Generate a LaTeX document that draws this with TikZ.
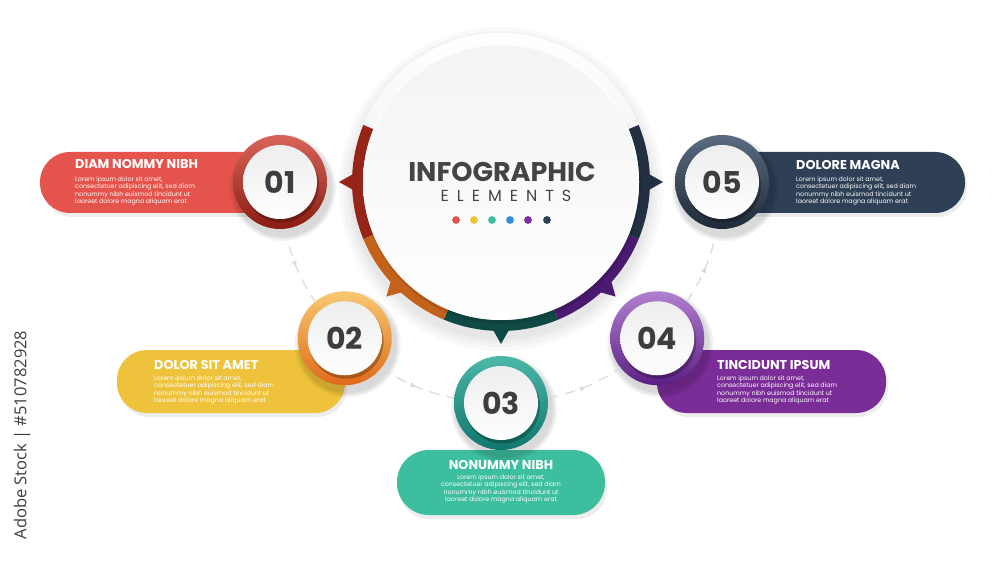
\documentclass[tikz,border=0pt]{standalone}
\usepackage{fontspec}
\setmainfont{Poppins}
\newfontfamily\elemfont[LetterSpace=50]{Poppins}
\newfontfamily\wmfont{Open Sans}
\usetikzlibrary{decorations.markings,arrows.meta}
\definecolor{pillred}{HTML}{E4544C}
\definecolor{pillyellow}{HTML}{EEC23A}
\definecolor{pillteal}{HTML}{3DBE9E}
\definecolor{pillpurple}{HTML}{7A2D96}
\definecolor{pillnavy}{HTML}{2F3F56}
\definecolor{ringAl}{HTML}{D8655A}\definecolor{ringAd}{HTML}{8A1C12}
\definecolor{ringBl}{HTML}{F7C971}\definecolor{ringBd}{HTML}{E06A1A}
\definecolor{ringCl}{HTML}{4CB8A8}\definecolor{ringCd}{HTML}{0F766B}
\definecolor{ringDl}{HTML}{B080D0}\definecolor{ringDd}{HTML}{5B1F85}
\definecolor{ringEl}{HTML}{5A6B80}\definecolor{ringEd}{HTML}{1E2A38}
\definecolor{segred}{HTML}{962418}
\definecolor{segorange}{HTML}{C4621C}
\definecolor{segteal}{HTML}{0F4A47}
\definecolor{segpurple}{HTML}{4A1B70}
\definecolor{segnavy}{HTML}{223042}
\definecolor{numgray}{HTML}{3D3D3D}
\definecolor{titlegray}{HTML}{444444}
\definecolor{arcgray}{HTML}{DCDCDC}
\definecolor{dotblue}{HTML}{2E8FD8}
\tikzset{
  pill/.style={rounded corners=30pt, inner sep=0pt, minimum height=61pt},
  pilltitle/.style={font=\bfseries\fontsize{12.8}{12.8}\selectfont, text=white, inner sep=0pt},
  pillbody/.style={font=\fontsize{6.3}{7.4}\selectfont, text=white, inner sep=0pt},
  numnode/.style={circle, minimum size=94pt, inner sep=0pt, font=\bfseries\fontsize{30}{30}\selectfont, text=numgray},
  arcline/.style={draw=arcgray, line width=1.3pt, dash pattern=on 10pt off 8pt,
    postaction={decorate}, decoration={markings, mark=at position 0.5 with {\arrow{Triangle[length=6pt,width=5pt]}}}}
}
\begin{document}
\begin{tikzpicture}[x=1pt,y=1pt]
\useasboundingbox (0,0) rectangle (1000,563);
\fill[white] (0,0) rectangle (1000,563);
\coordinate (C) at (501,381);
\foreach \a [count=\i] in {180,225,270,315,360} \coordinate (s\i) at ([shift={(\a:221)}]C);

% pill shadows
\foreach \xa/\ya/\xb/\yb in {40/350/281/411, 722/350/965/411, 117/150/345/213, 657/150/886/213, 397/48/605/113}
  \fill[black, opacity=0.07, rounded corners=30pt] (\xa+2,\ya-4) rectangle (\xb+2,\yb-3);

% pills
\node[pill, fill=pillred, minimum width=241pt] (p1) at (160.5,380.5) {};
\node[pill, fill=pillnavy, minimum width=243pt] (p5) at (843.5,380.5) {};
\node[pill, fill=pillyellow, minimum width=228pt, minimum height=63pt] (p2) at (231,181.5) {};
\node[pill, fill=pillpurple, minimum width=229pt, minimum height=63pt] (p4) at (771.5,181.5) {};
\node[pill, fill=pillteal, minimum width=208pt, minimum height=65pt, rounded corners=32pt] (p3) at (501,80.5) {};

% pill texts
\node[pilltitle, anchor=west] (t1) at (75,399) {DIAM NOMMY NIBH};
\node[pillbody, anchor=west, align=left] (b1) at (75,372) {Lorem ipsum dolor sit amet,\\consectetuer adipiscing elit, sed diam\\nonummy nibh euismod tincidunt ut\\laoreet dolore magna aliquam erat};
\node[pilltitle, anchor=west] (t5) at (796,398) {DOLORE MAGNA};
\node[pillbody, anchor=west, align=left] (b5) at (796,372) {Lorem ipsum dolor sit amet,\\consectetuer adipiscing elit, sed diam\\nonummy nibh euismod tincidunt ut\\laoreet dolore magna aliquam erat};
\node[pilltitle, anchor=west] (t2) at (154,198) {DOLOR SIT AMET};
\node[pillbody, anchor=west, align=left] (b2) at (154,173) {Lorem ipsum dolor sit amet,\\consectetuer adipiscing elit, sed diam\\nonummy nibh euismod tincidunt ut\\laoreet dolore magna aliquam erat};
\node[pilltitle, anchor=west] (t4) at (717,198) {TINCIDUNT IPSUM};
\node[pillbody, anchor=west, align=left] (b4) at (717,173) {Lorem ipsum dolor sit amet,\\consectetuer adipiscing elit, sed diam\\nonummy nibh euismod tincidunt ut\\laoreet dolore magna aliquam erat};
\node[pilltitle] (t3) at (501,98) {NONUMMY NIBH};
\node[pillbody, align=center] (b3) at (501,74) {Lorem ipsum dolor sit amet,\\consectetuer adipiscing elit, sed diam\\nonummy nibh euismod tincidunt ut\\laoreet dolore magna aliquam erat};

% central circle shadow
\foreach \r in {162,158,154,151}
  \fill[black, opacity=0.022] ([yshift=-7pt]C) circle (\r);
% central ring
\shade[top color=white, bottom color=gray!22] (C) circle (149);
\fill[segred]    (C) -- ++(157.5:149) arc (157.5:202.5:149) -- cycle;
\fill[segorange] (C) -- ++(202.5:149) arc (202.5:247.5:149) -- cycle;
\fill[segteal]   (C) -- ++(247.5:149) arc (247.5:292.5:149) -- cycle;
\fill[segpurple] (C) -- ++(292.5:149) arc (292.5:337.5:149) -- cycle;
\fill[segnavy]   (C) -- ++(-22.5:149) arc (-22.5:22.5:149) -- cycle;
\foreach \a/\c in {180/segred, 225/segorange, 270/segteal, 315/segpurple, 0/segnavy}
  \fill[\c] ([shift={(\a:162)}]C) -- ([shift={(\a+3.6:146)}]C) -- ([shift={(\a-3.6:146)}]C) -- cycle;
% face
\fill[black, opacity=0.10] ([shift={(1,-3)}]C) circle (139);
\shade[top color=gray!9, bottom color=white] (C) circle (138);
\draw[white, line width=1.2pt] (C) circle (137.4);

\node[font=\bfseries\fontsize{27}{27}\selectfont, text=titlegray, inner sep=0pt] (title) at (502,391) {INFOGRAPHIC};
\node[font=\elemfont\fontsize{16}{16}\selectfont, text=titlegray, inner sep=0pt] (elem) at (506,367) {ELEMENTS};
\foreach \x/\c in {456/pillred, 474/pillyellow, 492/pillteal, 510/dotblue, 528/pillpurple, 547/pillnavy}
  \fill[\c] (\x,343) circle (3.9);

% step circles
\foreach \i/\l/\d in {1/ringAl/ringAd, 2/ringBl/ringBd, 3/ringCl/ringCd, 4/ringDl/ringDd, 5/ringEl/ringEd} {
  \foreach \r in {53,51,49}
    \fill[black, opacity=0.05] ([shift={(3,-6)}]s\i) circle (\r);
  \shade[top color=\l, bottom color=\d] (s\i) circle (47);
  \fill[black, opacity=0.25] ([shift={(1.5,-3)}]s\i) circle (37.5);
  \shade[top color=gray!14, bottom color=white] (s\i) circle (37);
}
\node[numnode] (n1) at (s1) {01};
\node[numnode] (n2) at (s2) {02};
\node[numnode] (n3) at (s3) {03};
\node[numnode] (n4) at (s4) {04};
\node[numnode] (n5) at (s5) {05};

% dashed arcs
\draw[arcline] (n1.276) to[bend right=10.3] (n2.129);
\draw[arcline] (n2.321) to[bend right=10.3] (n3.174);
\draw[arcline] (n3.6) to[bend right=10.3] (n4.219);
\draw[arcline] (n4.51) to[bend right=10.3] (n5.264);

% vertical credit text
\node[rotate=90, font=\wmfont\fontsize{16.5}{16.5}\selectfont, text=numgray, inner sep=0pt] (wm) at (22,128) {Adobe Stock | \#510782928};
\end{tikzpicture}
\end{document}
